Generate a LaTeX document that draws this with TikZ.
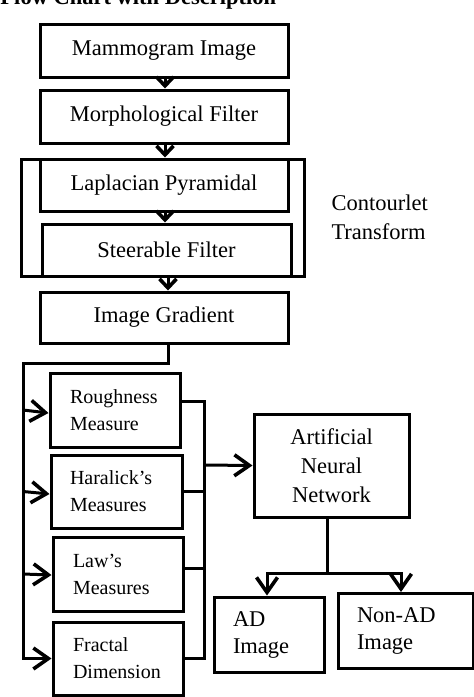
\documentclass[tikz,border=0pt]{standalone}
\usepackage{fontspec}
\setmainfont{Liberation Serif}
\usetikzlibrary{arrows.meta,calc}
\begin{document}
\begin{tikzpicture}[x=1pt,y=-1pt,
  every node/.style={line width=3pt},
  bigfont/.style={font=\fontsize{22.5}{27}\selectfont},
  smallfont/.style={font=\fontsize{20}{27}\selectfont},
  mainbox/.style={draw,bigfont,minimum width=248,minimum height=53,inner sep=0pt},
  featbox/.style={draw,smallfont,align=left,inner xsep=20pt,text width=90pt,minimum height=74},
  outbox/.style={draw,bigfont,align=left,inner xsep=19pt,minimum height=75},
  conn/.style={line width=3pt},
  bigarrow/.style={conn,-{Straight Barb[length=15pt,width=21pt,line width=3.6pt]}},
  downarrow/.style={conn,-{Straight Barb[length=9pt,width=17pt,line width=3.6pt]}}]
\useasboundingbox (0,0) rectangle (474,697);
% title (cut by top edge)
\node[anchor=base west,inner sep=0pt,font=\fontsize{22.5}{27}\selectfont\bfseries] (title) at (-1,4.5) {Flow Chart with Description};
% contourlet frame
\node[draw,minimum width=283,minimum height=117,inner sep=0pt] (ct) at (162.5,217.5) {};
\node[anchor=base west,inner sep=0pt,bigfont] (ctl1) at (330,210) {Contourlet};
\node[anchor=base west,inner sep=0pt,bigfont] (ctl2) at (330,239) {Transform};
% main chain
\node[mainbox] (mam) at (164,50.5) {Mammogram Image};
\node[mainbox] (morph) at (164,116.5) {Morphological Filter};
\node[mainbox,minimum height=52] (lap) at (164,185) {Laplacian Pyramidal};
\node[mainbox,minimum width=249,minimum height=52] (steer) at (166.5,250) {Steerable Filter};
\node[mainbox,minimum height=51] (grad) at (164,317.5) {Image Gradient};
% features
\node[featbox] (rough) at (115,410) {Roughness\\Measure};
\node[featbox,inner xsep=19pt,text width=93pt,minimum height=73] (har) at (116.5,491.5) {Haralick's\\Measures};
\node[featbox] (law) at (118,574) {Law's\\Measures};
\node[featbox,minimum height=73] (frac) at (118,658.5) {Fractal\\Dimension};
% ANN and outputs
\node[draw,bigfont,align=center,minimum width=155,minimum height=103,inner sep=0pt,font=\fontsize{22.5}{29}\selectfont] (ann) at (331.5,465.5) {Artificial\\Neural\\Network};
\node[outbox,text width=72pt] (ad) at (269,634.5) {AD\\Image};
\node[outbox,text width=97pt] (nonad) at (405.5,631) {Non-AD\\Image};
% connectors main chain
\draw[downarrow] ([xshift=1pt]mam.south) -- ([xshift=1pt]morph.north);
\draw[downarrow] ([xshift=1pt]morph.south) -- ([xshift=1pt]lap.north);
\draw[downarrow] ([xshift=1pt]lap.south) -- ([xshift=1pt]lap.south |- steer.north);
\draw[downarrow] ([xshift=1.5pt]steer.south) -- ([xshift=1.5pt]steer.south |- grad.north);
% trunk
\coordinate (tk) at (23,363);
\draw[bigarrow] ([xshift=4pt]grad.south) |- (tk) |- (frac.west);
\draw[bigarrow] (tk |- rough.west) -- ([yshift=-3pt]rough.west);
\draw[bigarrow] (tk |- har.west) -- ([yshift=-2.5pt]har.west);
\draw[bigarrow] (tk |- law.west) -- ([yshift=-1pt]law.west);
% right bus
\coordinate (bus) at (204,465);
\draw[conn] ([yshift=9pt]rough.east) -- ($(bus |- rough.east)+(0,-9)$) -- (bus |- frac.east) -- (frac.east);
\draw[conn] (har.east) -- (bus |- har.east);
\draw[conn] ([yshift=6pt]law.east) -- ($(bus |- law.east)+(0,-6)$);
\draw[bigarrow] (bus) -- (ann.west);
% outputs
\coordinate (split) at (327,573);
\draw[conn] ([xshift=-4.5pt]ann.south) -- (split);
\draw[bigarrow] (split) -| ([xshift=-2pt]ad.north);
\draw[bigarrow] (split) -| ([xshift=-4.5pt]nonad.north);
\end{tikzpicture}
\end{document}
